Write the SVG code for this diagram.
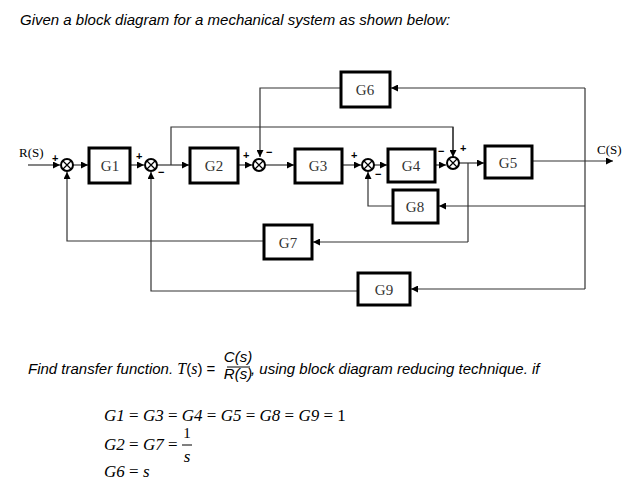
<svg xmlns="http://www.w3.org/2000/svg" width="640" height="495" viewBox="0 0 640 495">
<defs>
<marker id="ah" viewBox="0 0 10 10" refX="10" refY="5" markerWidth="7" markerHeight="7" markerUnits="userSpaceOnUse" orient="auto"><path d="M0,0L10,5L0,10z" fill="#000"/></marker>
<style>
.blk rect{fill:#fff;stroke:#000;stroke-width:3}
.blk text{font-family:"Liberation Serif",serif;font-size:15px;text-anchor:middle;fill:#333}
.sum circle{fill:#fff;stroke:#000;stroke-width:2}
.sum path{stroke:#000;stroke-width:1.2}
.c path{fill:none;stroke:#333;stroke-width:1.2}
.a{marker-end:url(#ah)}
.sg{font-family:"Liberation Sans",sans-serif;font-size:11px;font-weight:bold}
.it{font-family:"Liberation Sans",sans-serif;font-size:15px;font-style:italic}
.eq{font-family:"Liberation Serif",serif;font-size:17px;font-style:italic}
</style>
</defs>
<rect width="640" height="495" fill="#fff"/>
<text class="it" x="20" y="25" font-size="13.5">Given a block diagram for a mechanical system as shown below:</text>

<g class="c">
<path class="a" d="M28,165H60"/>
<path class="a" d="M73,165H88"/>
<path class="a" d="M130,165H144"/>
<path class="a" d="M157,165H189"/>
<path d="M171,165V127H453V153"/>
<path class="a" d="M453,127V157"/>
<path class="a" d="M238,165H252"/>
<path class="a" d="M265,165H294"/>
<path class="a" d="M342,165H361"/>
<path class="a" d="M374,165H387"/>
<path class="a" d="M435,165H446"/>
<path class="a" d="M459,163H484"/>
<path class="a" d="M532,161H613"/>
<path d="M585,88V289"/>
<path class="a" d="M585,88H391"/>
<path class="a" d="M341,88H260V157"/>
<path class="a" d="M585,206H439"/>
<path class="a" d="M393,206H368V172"/>
<path d="M468,163V242"/>
<path class="a" d="M468,242H313"/>
<path class="a" d="M264,241H67V172"/>
<path class="a" d="M585,289H411"/>
<path class="a" d="M358,291H151V172"/>
</g>

<g id="sum1" class="sum"><circle cx="67" cy="165" r="6"/><path d="M63,161L71,169M71,161L63,169"/></g>
<g id="sum2" class="sum"><circle cx="151" cy="165" r="6"/><path d="M147,161L155,169M155,161L147,169"/></g>
<g id="sum3" class="sum"><circle cx="259" cy="165" r="6"/><path d="M255,161L263,169M263,161L255,169"/></g>
<g id="sum4" class="sum"><circle cx="368" cy="165" r="6"/><path d="M364,161L372,169M372,161L364,169"/></g>
<g id="sum5" class="sum"><circle cx="453" cy="163" r="6"/><path d="M449,159L457,167M457,159L449,167"/></g>

<g id="G1" class="blk"><rect x="89" y="148" width="41" height="35"/><text x="110" y="171">G1</text></g>
<g id="G2" class="blk"><rect x="190" y="148" width="48" height="35"/><text x="214" y="171">G2</text></g>
<g id="G3" class="blk"><rect x="295" y="149" width="47" height="34"/><text x="318" y="171">G3</text></g>
<g id="G4" class="blk"><rect x="388" y="149" width="47" height="33"/><text x="411" y="171">G4</text></g>
<g id="G5" class="blk"><rect x="485" y="146" width="47" height="32"/><text x="508" y="168">G5</text></g>
<g id="G6" class="blk"><rect x="341" y="72" width="49" height="35"/><text x="365" y="95">G6</text></g>
<g id="G7" class="blk"><rect x="264" y="225" width="48" height="34"/><text x="288" y="248">G7</text></g>
<g id="G8" class="blk"><rect x="393" y="190" width="45" height="33"/><text x="415" y="212">G8</text></g>
<g id="G9" class="blk"><rect x="358" y="273" width="52" height="32"/><text x="384" y="295">G9</text></g>

<g font-family="Liberation Serif,serif" font-size="13">
<text x="19" y="157">R(S)</text>
<text x="597" y="154">C(S)</text>
</g>
<g class="sg">
<text x="52" y="162">+</text>
<text x="136" y="160">+</text>
<text x="158" y="176">−</text>
<text x="243" y="159">+</text>
<text x="266" y="156">−</text>
<text x="351" y="159">+</text>
<text x="375" y="178">−</text>
<text x="438" y="155">−</text>
<text x="460" y="152">+</text>
</g>

<text class="it" x="28" y="374">Find transfer function. <tspan font-family="Liberation Serif,serif" font-size="16">T</tspan><tspan font-style="normal">(</tspan><tspan font-family="Liberation Serif,serif" font-size="16">s</tspan><tspan font-style="normal">) =</tspan></text>
<text class="it" x="238" y="362" font-size="9" text-anchor="middle">C(s)</text>
<path d="M227,367H250" stroke="#000" stroke-width="1"/>
<text class="it" x="238" y="379" font-size="9" text-anchor="middle">R(s)</text>
<text class="it" x="251" y="374">, using block diagram reducing technique. if</text>

<text class="eq" x="104" y="421">G1 <tspan font-style="normal">=</tspan> G3 <tspan font-style="normal">=</tspan> G4 <tspan font-style="normal">=</tspan> G5 <tspan font-style="normal">=</tspan> G8 <tspan font-style="normal">=</tspan> G9 <tspan font-style="normal">= 1</tspan></text>
<text class="eq" x="104" y="450">G2 <tspan font-style="normal">=</tspan> G7 <tspan font-style="normal">=</tspan></text>
<text x="187" y="438" font-family="Liberation Serif,serif" font-size="15" text-anchor="middle">1</text>
<path d="M182,445H192" stroke="#000" stroke-width="1"/>
<text class="eq" x="187" y="462" text-anchor="middle">s</text>
<text class="eq" x="104" y="477">G6 <tspan font-style="normal">=</tspan> s</text>
</svg>
